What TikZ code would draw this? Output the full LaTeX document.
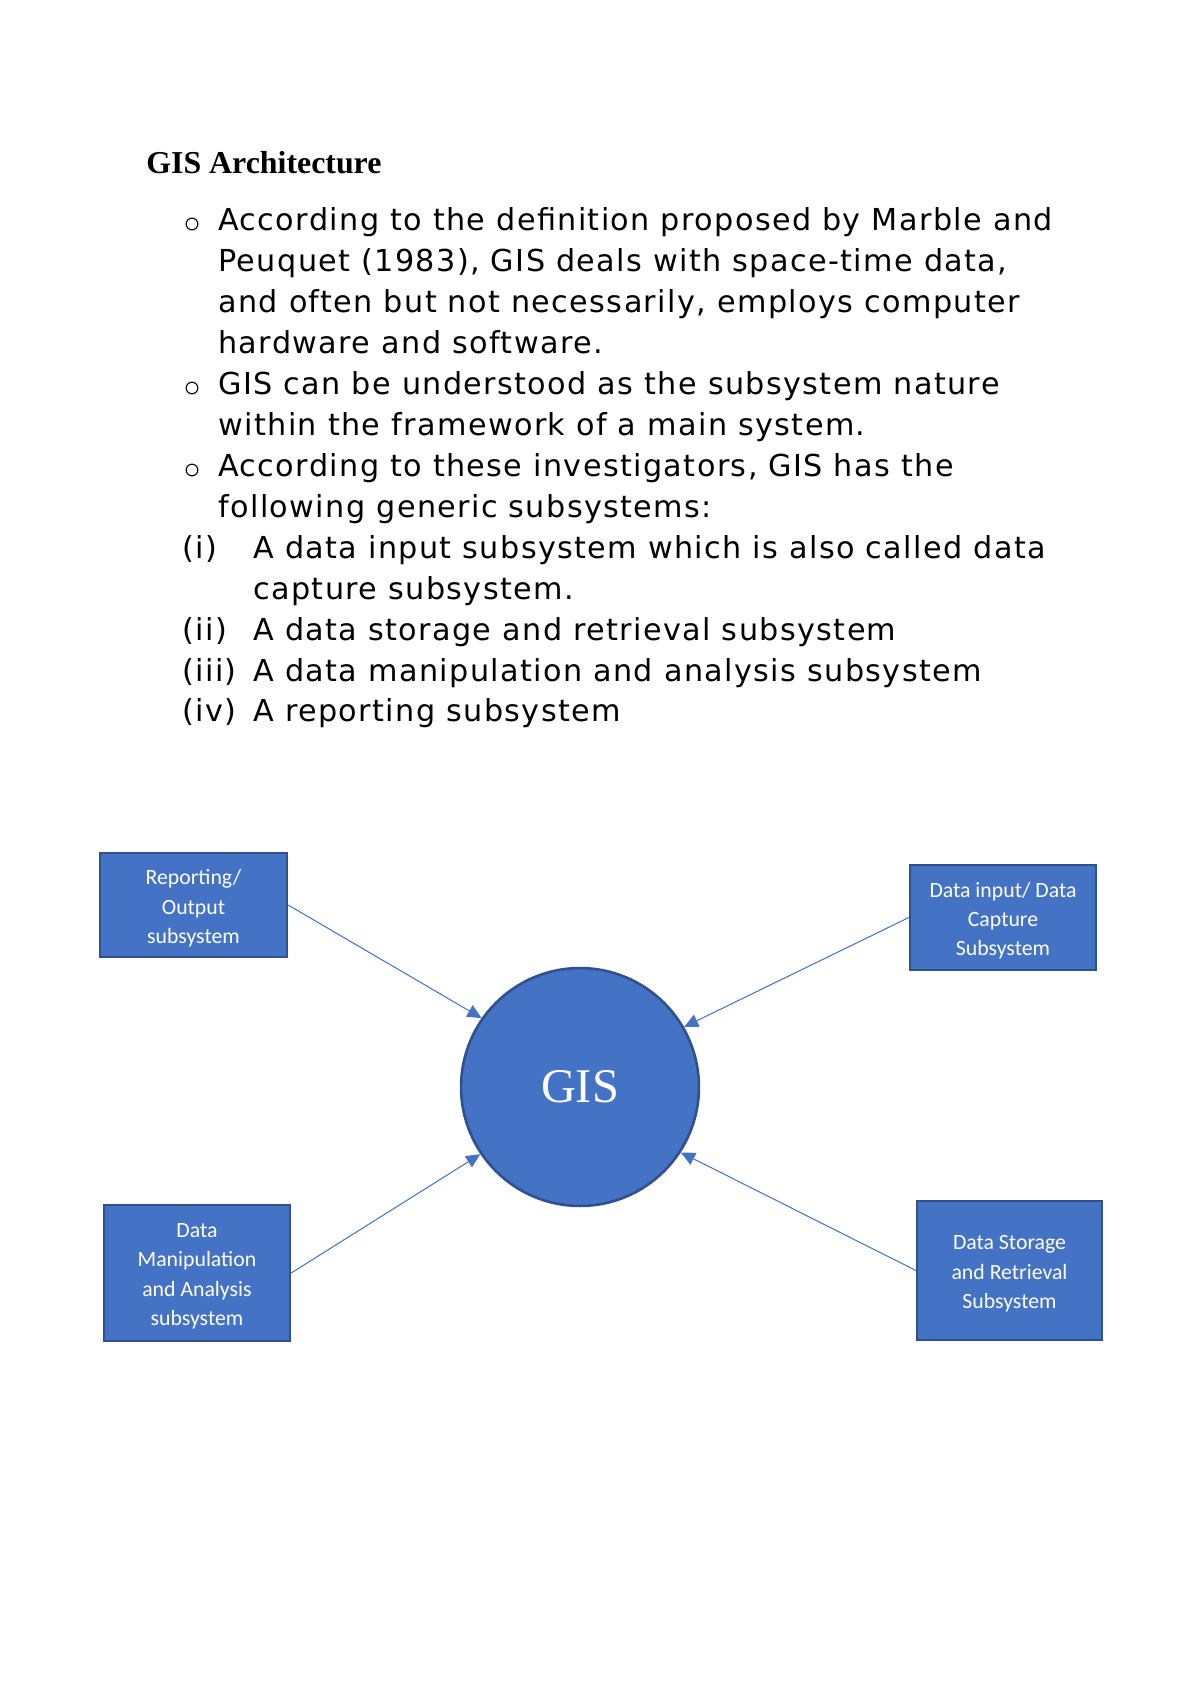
\documentclass[tikz,border=0pt]{standalone}
\usepackage{fontspec}
\setmainfont{DejaVu Sans}[LetterSpace=4.6]
\newfontfamily\headfont{Liberation Serif}
\newfontfamily\boxfont{Carlito}
\usetikzlibrary{arrows.meta}
\definecolor{officeblue}{HTML}{4472C4}
\definecolor{borderblue}{HTML}{2F528F}
\begin{document}
\begin{tikzpicture}[x=0.4961pt,y=-0.4961pt,
  txt/.style={anchor=base west,inner sep=0,font=\fontsize{15}{18}\selectfont},
  bul/.style={circle,draw=black,line width=0.55pt,inner sep=0,minimum size=5.8pt},
  subbox/.style={draw=borderblue,line width=1.1pt,fill=officeblue,inner sep=0},
  boxtext/.style={text=white,font=\boxfont\fontsize{10.8}{14.5}\selectfont,align=center,inner sep=0},
  conn/.style={draw=officeblue,line width=0.5pt,-{Triangle[length=7pt,width=6.5pt]}}]
\useasboundingbox (0,0) rectangle (1200,1698);

\node[anchor=base west,inner sep=0,font=\headfont\bfseries\fontsize{15.8}{19}\selectfont] (head) at (146,173) {GIS Architecture};

\node[bul] (b1) at (192,224) {};
\node[txt] (l1) at (218,230) {According to the definition proposed by Marble and};
\node[txt] (l2) at (218,271) {Peuquet (1983), GIS deals with space-time data,};
\node[txt] (l3) at (218,312) {and often but not necessarily, employs computer};
\node[txt] (l4) at (218,353) {hardware and software.};
\node[bul] (b2) at (192,388) {};
\node[txt] (l5) at (218,394) {GIS can be understood as the subsystem nature};
\node[txt] (l6) at (218,435) {within the framework of a main system.};
\node[bul] (b3) at (192,470) {};
\node[txt] (l7) at (218,476) {According to these investigators, GIS has the};
\node[txt] (l8) at (218,517) {following generic subsystems:};
\node[txt] (n1) at (182,558) {(i)};
\node[txt] (l9) at (253,558) {A data input subsystem which is also called data};
\node[txt] (l10) at (253,599) {capture subsystem.};
\node[txt] (n2) at (182,640) {(ii)};
\node[txt] (l11) at (253,640) {A data storage and retrieval subsystem};
\node[txt] (n3) at (182,681) {(iii)};
\node[txt] (l12) at (253,681) {A data manipulation and analysis subsystem};
\node[txt] (n4) at (182,721) {(iv)};
\node[txt] (l13) at (253,721) {A reporting subsystem};

\node[circle,draw=borderblue,line width=1.3pt,fill=officeblue,minimum size=118pt,inner sep=0,
  text=white,font=\headfont\fontsize{24}{28}\selectfont] (gis) at (580,1087) {GIS};

\node[subbox,minimum width=92.8pt,minimum height=51.6pt] (rep) at (193.5,905) {};
\node[boxtext] (rept) at ([yshift=-1.6pt]rep.center) {Reporting/\\Output\\subsystem};
\node[subbox,minimum width=92.3pt,minimum height=52.1pt] (inp) at (1003,917.5) {};
\node[boxtext] (inpt) at ([yshift=-1.6pt]inp.center) {Data input/ Data\\Capture\\Subsystem};
\node[subbox,minimum width=92.3pt,minimum height=67.5pt] (man) at (197,1273) {};
\node[boxtext] (mant) at ([yshift=-1.6pt]man.center) {Data\\Manipulation\\and Analysis\\subsystem};
\node[subbox,minimum width=91.8pt,minimum height=69pt] (sto) at (1009.5,1270.5) {};
\node[boxtext] (stot) at ([yshift=-1.6pt]sto.center) {Data Storage\\and Retrieval\\Subsystem};

\draw[conn] (rep.east) -- (gis.145);
\draw[conn] (inp.west) -- (gis.30);
\draw[conn] (man.east) -- (gis.214);
\draw[conn] (sto.west) -- (gis.327);
\end{tikzpicture}
\end{document}
